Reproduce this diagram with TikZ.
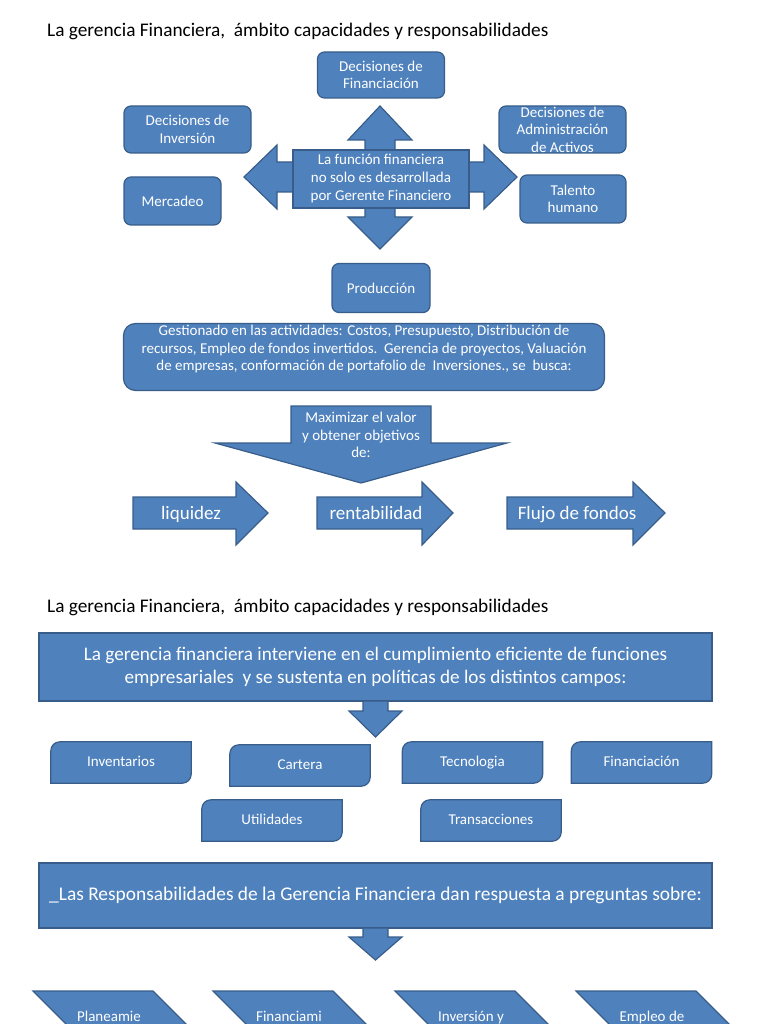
\documentclass[tikz,border=0pt]{standalone}
\usepackage{fontspec}
\setmainfont{Carlito}
\usetikzlibrary{positioning,backgrounds}
\definecolor{boxblue}{HTML}{4F81BD}
\definecolor{boxline}{HTML}{385D8A}

\begin{document}
\begin{tikzpicture}[x=1pt, y=-1pt,
    box/.style={draw=boxline, fill=boxblue, line width=1.2pt, rounded corners=7pt,
                text=white, align=center, inner sep=0pt,
                font=\fontsize{15}{17.5}\selectfont},
    plate/.style={draw=boxline, fill=boxblue, line width=1.2pt,
                  text=white, align=center, inner sep=0pt},
    shapefill/.style={draw=boxline, fill=boxblue, line width=1.2pt, line join=miter},
    celltext/.style={text=white, inner sep=0pt, align=center,
                     font=\fontsize{15}{17.5}\selectfont},
    cell/.style={celltext, minimum width=140, minimum height=41,
                 text height=10.5pt, text depth=3.5pt},
    heading/.style={anchor=west, inner sep=0pt, font=\fontsize{19.3}{22}\selectfont},
    bigtext/.style={text=white, inner sep=0pt, anchor=base,
                    font=\fontsize{19}{22}\selectfont},
  ]
  \path[use as bounding box] (0,0) rectangle (768,1024);

  % first page
  \node[heading] (title1) at (47,31)
      {La gerencia Financiera,\ \ ámbito capacidades y responsabilidades};

  \node[box, minimum width=127, minimum height=46] (decfin) at (381,75)
      {Decisiones de\\Financiación};
  \node[box, minimum width=127, minimum height=47] (decinv) at (187.5,129.5)
      {Decisiones de\\Inversión};
  \node[box, minimum width=127, minimum height=47] (decadm) at (562.5,129.5)
      {Decisiones de\\Administración\\de Activos};
  \node[box, minimum width=97, minimum height=48] (merc) at (172.5,201) {Mercadeo};
  \node[box, minimum width=106, minimum height=48] (tal) at (573,199)
      {Talento\\humano};

  % four-way arrow behind the centre box
  \coordinate (hub) at (380,177);
  \draw[shapefill, shift={(hub)}]
    (0,-71) -- (32,-37) -- (15,-37) -- (15,-15) -- (104,-15) -- (104,-32)
    -- (137,0) -- (104,32) -- (104,15) -- (15,15) -- (15,40) -- (32,40)
    -- (0,72) -- (-32,40) -- (-15,40) -- (-15,15) -- (-103,15) -- (-103,32)
    -- (-136,0) -- (-103,-32) -- (-103,-15) -- (-15,-15) -- (-15,-37)
    -- (-32,-37) -- cycle;
  \node[plate, minimum width=176, minimum height=58,
        font=\fontsize{15}{18}\selectfont] (fn) at (381,179)
      {La función financiera\\no solo es desarrollada\\por Gerente Financiero};

  \node[box, minimum width=98, minimum height=49] (prod) at (381,288) {Producción};

  \node[box, minimum width=481, minimum height=67, rounded corners=12pt] (gest)
      at (364,357) {};
  \node[celltext] (gesttext) at (364,349)
      {Gestionado en las actividades: Costos, Presupuesto, Distribución de\\
       recursos, Empleo de fondos invertidos.\ \ Gerencia de proyectos, Valuación\\
       de empresas, conformación de portafolio de\ \ Inversiones., se\ \ busca:};

  % big down arrow
  \draw[shapefill] (291,406) -- (431,406) -- (431,443) -- (507,443) -- (361,483)
    -- (215,443) -- (291,443) -- cycle;
  \node[celltext] (maxv) at (361,435)
      {Maximizar el valor\\y obtener objetivos\\de:};

  % objectives
  \foreach \a/\b/\c/\tx/\lab/\nm in {133/236/268/191/liquidez/liq,
      317/422/453/376/rentabilidad/ren, 507/633/665/577/Flujo de fondos/flu} {
    \draw[shapefill] (\a,497) -- (\b,497) -- (\b,482) -- (\c,513) -- (\b,545)
      -- (\b,529) -- (\a,529) -- cycle;
    \node[bigtext] (\nm) at (\tx,519) {\lab};
  }

  % second page
  \node[heading] (title2) at (47,607)
      {La gerencia Financiera,\ \ ámbito capacidades y responsabilidades};

  \node[plate, minimum width=673, minimum height=68,
        font=\fontsize{19.2}{23}\selectfont] (ger) at (375.5,667)
      {La gerencia financiera interviene en el cumplimiento eficiente de funciones\\
       empresariales\ \ y se sustenta en políticas de los distintos campos:};
  \draw[shapefill] (363,701) -- (388,701) -- (388,711) -- (402,711) -- (375.5,737)
    -- (349,711) -- (363,711) -- cycle;

  \node[cell] (inv) at (121,762.5) {Inventarios};
  \node[cell] (car) at (300,765.5) {Cartera};
  \node[cell] (tec) at (472.5,762.5) {Tecnologia};
  \node[cell] (fin) at (641.5,762.5) {Financiación};
  \node[cell] (uti) at (272,820.5) {Utilidades};
  \node[cell] (tra) at (491,820.5) {Transacciones};
  \begin{scope}[on background layer]
    \foreach \n in {inv,car,tec,fin,uti,tra}
      \draw[shapefill] ([yshift=-9pt]\n.north west)
        .. controls ([yshift=-4pt]\n.north west) and ([xshift=4pt]\n.north west)
        .. ([xshift=9pt]\n.north west) -- (\n.north east)
        -- ([yshift=9pt]\n.south east)
        .. controls ([yshift=4pt]\n.south east) and ([xshift=-4pt]\n.south east)
        .. ([xshift=-9pt]\n.south east) -- (\n.south west) -- cycle;
  \end{scope}

  \node[plate, minimum width=673, minimum height=65,
        font=\fontsize{19.4}{22}\selectfont] (resp) at (375.5,895.5)
      {\_Las Responsabilidades de la Gerencia Financiera dan respuesta a preguntas sobre:};
  \draw[shapefill] (363,928) -- (388,928) -- (388,937) -- (402,937) -- (375.5,960)
    -- (349,937) -- (363,937) -- cycle;

  \foreach \x/\t/\nm in {33/Planeamie/plan, 213/Financiami/finm,
      395/Inversión y/inver, 576/Empleo de/empl} {
    \draw[shapefill] (\x,991) -- ++(120,0) -- ++(50,50) -- ++(-120,0) -- cycle;
    \node[celltext, anchor=base] (\nm) at (\x+76,1021) {\t};
  }
\end{tikzpicture}
\end{document}
